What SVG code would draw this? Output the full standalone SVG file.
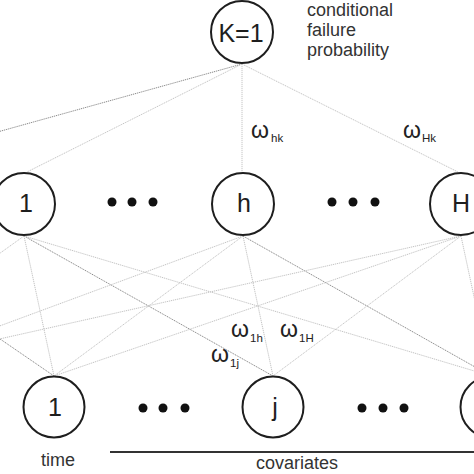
<svg xmlns="http://www.w3.org/2000/svg" width="474" height="474" viewBox="0 0 474 474">
<style>
.n{fill:#fff;stroke:#1e1e1e;stroke-width:2}
.lbl{font-family:"Liberation Sans",Arial,sans-serif;font-size:25px;fill:#1e1e1e;text-anchor:middle}
.t{font-family:"Liberation Sans",Arial,sans-serif;font-size:18px;fill:#333}
.w{font-family:"Liberation Sans",Arial,sans-serif;font-size:23px;fill:#222}
.s{font-family:"Liberation Sans",Arial,sans-serif;font-size:11.5px;fill:#222}
.c{stroke:#c4c4c4;stroke-width:1;stroke-dasharray:1.2 0.8;fill:none}
.d{stroke:#8a8a8a;stroke-width:1;stroke-dasharray:1.2 0.8;fill:none}
.dot{fill:#111}
</style>
<g id="connectors">
<line class="d" x1="242" y1="64" x2="-150" y2="173"/>
<line class="c" x1="242" y1="64" x2="27" y2="172"/>
<line class="c" x1="242" y1="64" x2="242" y2="172"/>
<line class="c" x1="242" y1="64" x2="458" y2="172"/>
<line class="c" x1="24" y1="236" x2="-170" y2="375"/>
<line class="c" x1="24" y1="236" x2="54" y2="376"/>
<line class="d" x1="24" y1="236" x2="273" y2="376"/>
<line class="c" x1="24" y1="236" x2="491" y2="376"/>
<line class="c" x1="243" y1="236" x2="-133" y2="375"/>
<line class="c" x1="243" y1="236" x2="54" y2="376"/>
<line class="c" x1="243" y1="236" x2="273" y2="376"/>
<line class="d" x1="243" y1="236" x2="491" y2="376"/>
<line class="c" x1="461" y1="236" x2="-162" y2="375"/>
<line class="c" x1="461" y1="236" x2="54" y2="376"/>
<line class="c" x1="461" y1="236" x2="273" y2="376"/>
<line class="c" x1="461" y1="236" x2="491" y2="376"/>
<line class="d" x1="-150" y1="236" x2="54" y2="376"/>
</g>
<g id="k1"><circle class="n" cx="242" cy="32" r="31"/><text class="lbl" x="241" y="42" font-size="24">K=1</text></g>
<g id="h1"><circle class="n" cx="24" cy="204" r="31"/><text class="lbl" x="26" y="212">1</text></g>
<g id="hh"><circle class="n" cx="243" cy="204" r="31"/><text class="lbl" x="244" y="212">h</text></g>
<g id="hH"><circle class="n" cx="461" cy="204" r="31"/><text class="lbl" x="461" y="212">H</text></g>
<g id="i1"><circle class="n" cx="54" cy="407" r="30.5"/><text class="lbl" x="55" y="416">1</text></g>
<g id="ij"><circle class="n" cx="273" cy="407" r="30.5"/><text class="lbl" x="275" y="416">j</text></g>
<g id="iJ"><circle class="n" cx="491" cy="407" r="30.5"/></g>
<g id="dots">
<circle class="dot" cx="112" cy="202" r="4.5"/><circle class="dot" cx="132" cy="202" r="4.5"/><circle class="dot" cx="153" cy="202" r="4.5"/>
<circle class="dot" cx="332" cy="202" r="4.5"/><circle class="dot" cx="353" cy="202" r="4.5"/><circle class="dot" cx="375" cy="202" r="4.5"/>
<circle class="dot" cx="143" cy="408" r="4.5"/><circle class="dot" cx="163" cy="408" r="4.5"/><circle class="dot" cx="185" cy="408" r="4.5"/>
<circle class="dot" cx="362" cy="408" r="4.5"/><circle class="dot" cx="383" cy="408" r="4.5"/><circle class="dot" cx="404" cy="408" r="4.5"/>
</g>
<g id="labels">
<text class="t" x="307" y="16">conditional</text>
<text class="t" x="307" y="36">failure</text>
<text class="t" x="307" y="56">probability</text>
<text class="w" x="251" y="138">ω</text><text class="s" x="271" y="142">hk</text>
<text class="w" x="403" y="138">ω</text><text class="s" x="422" y="142">Hk</text>
<text class="w" x="231" y="337">ω</text><text class="s" x="250" y="342">1h</text>
<text class="w" x="280" y="337">ω</text><text class="s" x="299" y="342">1H</text>
<text class="w" x="211" y="362">ω</text><text class="s" x="230" y="367">1j</text>
<text class="t" x="58" y="466" text-anchor="middle">time</text>
<text class="t" x="297" y="469" text-anchor="middle">covariates</text>
</g>
<line x1="110" y1="452" x2="474" y2="452" stroke="#333" stroke-width="2"/>
</svg>
